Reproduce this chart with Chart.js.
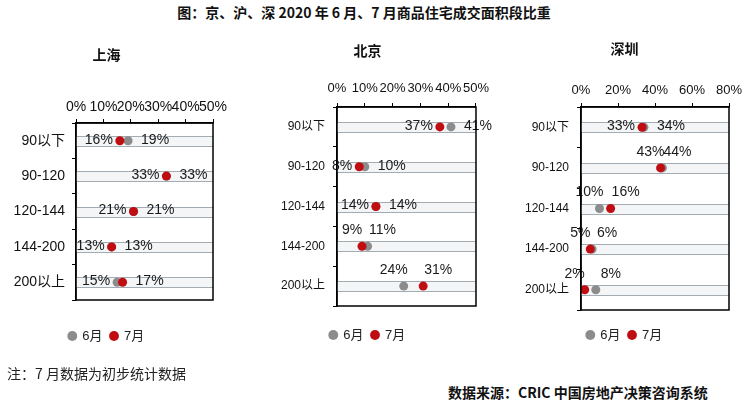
<!DOCTYPE html>
<html>
<head>
<meta charset="utf-8">
<script src="https://cdn.jsdelivr.net/npm/chart.js@4.4.0/dist/chart.umd.min.js"></script>
<style>
    body { margin: 0; width: 750px; height: 406px; background: #fff; position: relative; overflow: hidden; font-family: "Noto Sans CJK SC", sans-serif; color: #111; }
    .panel { position: absolute; top: 30px; height: 340px; }
    #title { position: absolute; left: 0; width: 728px; top: 4px; text-align: center; font-weight: bold; font-size: 14px; line-height: 16px; }
    #note { position: absolute; left: 7px; top: 365px; font-size: 14px; line-height: 16px; color: #222; }
    #source { position: absolute; left: 448px; top: 384px; font-size: 14px; line-height: 16px; font-weight: bold; }
</style>
</head>
<body>
<div id="title">图：京、沪、深 2020 年 6 月、7 月商品住宅成交面积段比重</div>
<div class="panel" style="left:0;width:240px"><canvas id="shChart"></canvas></div>
<div class="panel" style="left:256px;width:240px"><canvas id="bjChart"></canvas></div>
<div class="panel" style="left:520px;width:230px"><canvas id="szChart"></canvas></div>
<div id="note">注：7 月数据为初步统计数据</div>
<div id="source">数据来源：CRIC 中国房地产决策咨询系统</div>

<script>
const sizeBands = ["90以下", "90-120", "120-144", "144-200", "200以上"];
const seriesNames = ["6月", "7月"];

const shJune = [19, 33, 21, 13, 15];
const shJuly = [16, 33, 21, 13, 17];

const bjJune = [41, 10, 14, 11, 24];
const bjJuly = [37, 8, 14, 9, 31];

const szJune = [34, 44, 10, 6, 8];
const szJuly = [33, 43, 16, 5, 2];

const GREY = "#8c8c8c";
const RED = "#bf0d12";

Chart.defaults.font.family = "'Liberation Sans', 'Noto Sans CJK SC', sans-serif";
Chart.defaults.color = "#222";

// light row bands with two grey lines behind the dots, plus the black frame
const rowBands = {
    id: "rowBands",
    beforeDatasetsDraw(chart) {
        const { ctx, chartArea: a } = chart;
        const ys = chart.scales.y;
        ctx.save();
        sizeBands.forEach((_, i) => {
            const y = Math.round(ys.getPixelForValue(i));
            ctx.fillStyle = "#f3f5f7";
            ctx.fillRect(a.left, y - 5, a.right - a.left, 10);
            ctx.strokeStyle = "#a3abb3";
            ctx.lineWidth = 1;
            ctx.beginPath();
            ctx.moveTo(a.left, y - 4.5); ctx.lineTo(a.right, y - 4.5);
            ctx.moveTo(a.left, y + 5.5); ctx.lineTo(a.right, y + 5.5);
            ctx.stroke();
        });
        ctx.restore();
    },
    afterDraw(chart) {
        const { ctx, chartArea: a } = chart;
        ctx.save();
        ctx.strokeStyle = "#000";
        ctx.lineWidth = 1.5;
        ctx.strokeRect(a.left, a.top, a.right - a.left, a.bottom - a.top);
        ctx.restore();
    }
};

// value labels: smaller value on the left, larger on the right
const valueLabels = {
    id: "valueLabels",
    afterDatasetsDraw(chart, args, opts) {
        const { ctx } = chart;
        const g = chart.getDatasetMeta(0).data, r = chart.getDatasetMeta(1).data;
        const gv = chart.data.datasets[0].data, rv = chart.data.datasets[1].data;
        ctx.save();
        ctx.fillStyle = "#1a1a1a";
        ctx.font = opts.size + "px 'Liberation Sans', sans-serif";
        ctx.textBaseline = "middle";
        gv.forEach((_, i) => {
            let lo = r[i], loV = rv[i], hi = g[i], hiV = gv[i];
            if (rv[i] > gv[i]) { lo = g[i]; loV = gv[i]; hi = r[i]; hiV = rv[i]; }
            if (opts.modes[i] === "side") {
                ctx.textAlign = "right";
                ctx.fillText(loV + "%", lo.x - 7, lo.y - 1);
                ctx.textAlign = "left";
                ctx.fillText(hiV + "%", hi.x + 13, hi.y - 1);
            } else {
                ctx.textAlign = "center";
                ctx.fillText(loV + "%", lo.x - 10, lo.y - 16);
                ctx.fillText(hiV + "%", hi.x + 15, hi.y - 16);
            }
        });
        ctx.restore();
    }
};

function makePanel(id, title, june, july, cfg) {
    new Chart(document.getElementById(id), {
        type: "line",
        data: {
            labels: sizeBands,
            datasets: [
                { label: seriesNames[0], data: june, order: 1, showLine: false, clip: false,
                  pointRadius: 4.5, pointHoverRadius: 4.5, pointBorderWidth: 0,
                  backgroundColor: GREY, borderColor: GREY },
                { label: seriesNames[1], data: july, order: 0, showLine: false, clip: false,
                  pointRadius: 4.5, pointHoverRadius: 4.5, pointBorderWidth: 0,
                  backgroundColor: RED, borderColor: RED }
            ]
        },
        options: {
            indexAxis: "y",
            responsive: true,
            maintainAspectRatio: false,
            animation: false,
            layout: { padding: { left: 0, right: cfg.rightPad, top: 0, bottom: cfg.bottomPad } },
            plugins: {
                title: {
                    display: true,
                    text: title,
                    color: "#111",
                    font: { size: 14, weight: "bold" },
                    padding: { top: cfg.titlePad, bottom: 0 }
                },
                legend: {
                    position: "bottom",
                    labels: {
                        usePointStyle: true,
                        pointStyle: "circle",
                        boxWidth: 7,
                        boxHeight: 7,
                        padding: 8,
                        color: "#222",
                        font: { size: 13 },
                        sort: (a, b) => a.datasetIndex - b.datasetIndex
                    }
                },
                tooltip: { enabled: false },
                valueLabels: { modes: cfg.modes, size: cfg.labelSize }
            },
            scales: {
                x: {
                    type: "linear",
                    position: "top",
                    min: 0,
                    max: cfg.max,
                    ticks: {
                        stepSize: cfg.step,
                        autoSkip: false,
                        maxRotation: 0,
                        padding: cfg.tickPad,
                        color: "#111",
                        font: { size: cfg.tickSize },
                        callback: v => v + "%"
                    },
                    grid: { drawOnChartArea: false, tickLength: 4, color: "#000" },
                    border: { display: true, color: "#000", width: 1.5 },
                    afterFit: s => { s.height = cfg.xHeight; }
                },
                spacer: {
                    type: "linear",
                    position: "bottom",
                    display: true,
                    ticks: { display: false },
                    grid: { display: false },
                    border: { display: false },
                    afterFit: s => { s.height = cfg.gap; }
                },
                y: {
                    type: "category",
                    offset: true,
                    ticks: { padding: cfg.yPad, color: "#111", font: { size: cfg.ySize } },
                    grid: { offset: true, drawOnChartArea: false, tickLength: 4, color: "#000" },
                    border: { display: true, color: "#000", width: 1.5 },
                    afterFit: s => { s.width = cfg.yWidth; }
                }
            }
        },
        plugins: [rowBands, valueLabels]
    });
}

makePanel("shChart", "上海", shJune, shJuly, {
    max: 50, step: 10, titlePad: 18, xHeight: 58.2, gap: 21.5, bottomPad: 17.5,
    yWidth: 76, rightPad: 27, tickPad: 3, tickSize: 14, ySize: 14, yPad: 7, labelSize: 14,
    modes: ["side", "side", "side", "side", "side"]
});

makePanel("bjChart", "北京", bjJune, bjJuly, {
    max: 50, step: 10, titlePad: 13.6, xHeight: 46.6, gap: 14.5, bottomPad: 18.5,
    yWidth: 81, rightPad: 17, tickPad: 7, tickSize: 13, ySize: 12, yPad: 8, labelSize: 14,
    modes: ["side", "side", "side", "above", "above"]
});

makePanel("szChart", "深圳", szJune, szJuly, {
    max: 80, step: 20, titlePad: 11.6, xHeight: 48.6, gap: 10.5, bottomPad: 18.5,
    yWidth: 61, rightPad: 21, tickPad: 5, tickSize: 13, ySize: 12, yPad: 8, labelSize: 14,
    modes: ["side", "above", "above", "above", "above"]
});
</script>
</body>
</html>
